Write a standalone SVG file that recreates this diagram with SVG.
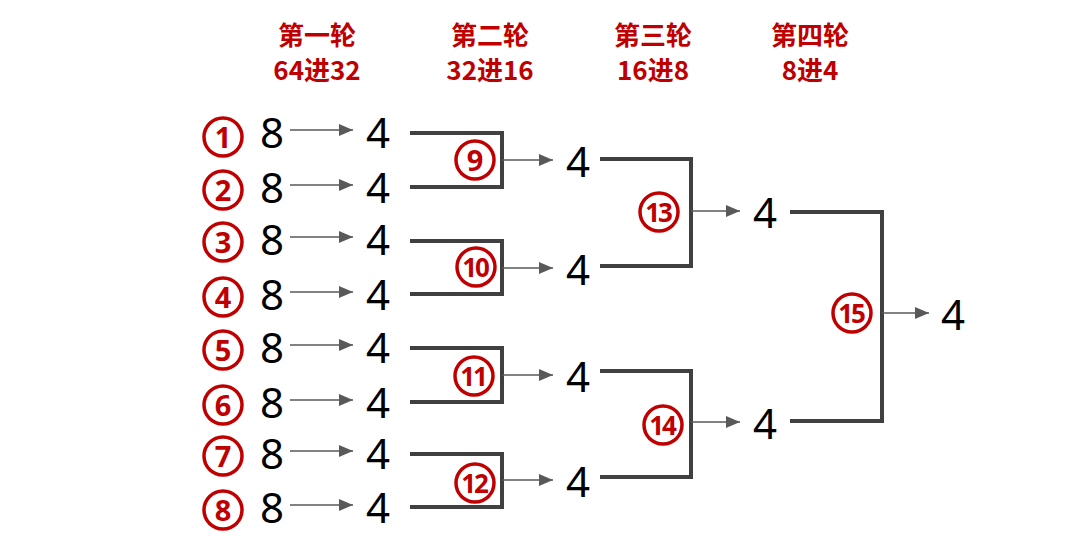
<svg xmlns="http://www.w3.org/2000/svg" width="1080" height="543" viewBox="0 0 1080 543">
<style>
.hd{font-family:"Noto Sans CJK SC","Noto Sans",sans-serif;font-weight:700;font-size:26px;fill:#c00000;text-anchor:middle}
.num{font-family:"Noto Sans","Open Sans",sans-serif;font-size:42px;fill:#000;text-anchor:middle}
.cn{font-family:"Noto Sans","Open Sans",sans-serif;font-weight:700;font-size:29px;fill:#c00000;text-anchor:middle}
.cn2{font-family:"Noto Sans","Open Sans",sans-serif;font-weight:700;font-size:26px;fill:#c00000;text-anchor:middle;letter-spacing:-2px}
.ring{fill:#fff;stroke:#c00000;stroke-width:3.5}
.br{fill:none;stroke:#404040;stroke-width:4}
.ar{stroke:#595959;stroke-width:1.5;fill:none;marker-end:url(#ah)}
</style>
<defs>
<marker id="ah" markerUnits="userSpaceOnUse" markerWidth="14" markerHeight="12" refX="14" refY="6" orient="auto">
<path d="M0,0 L14,6 L0,12 Z" fill="#595959"/>
</marker>
</defs>
<g id="headers">
<text class="hd" x="317" y="45">第一轮</text>
<text class="hd" x="317" y="80">64进32</text>
<text class="hd" x="490" y="45">第二轮</text>
<text class="hd" x="490" y="80">32进16</text>
<text class="hd" x="653" y="45">第三轮</text>
<text class="hd" x="653" y="80">16进8</text>
<text class="hd" x="810" y="45">第四轮</text>
<text class="hd" x="810" y="80">8进4</text>
</g>
<g id="connectors">
<line class="ar" x1="290" y1="130" x2="353" y2="130"/>
<line class="ar" x1="290" y1="185" x2="353" y2="185"/>
<line class="ar" x1="290" y1="237" x2="353" y2="237"/>
<line class="ar" x1="290" y1="292" x2="353" y2="292"/>
<line class="ar" x1="290" y1="345" x2="353" y2="345"/>
<line class="ar" x1="290" y1="400" x2="353" y2="400"/>
<line class="ar" x1="290" y1="451" x2="353" y2="451"/>
<line class="ar" x1="290" y1="505" x2="353" y2="505"/>
<path class="br" d="M410,133 H502 V187 H410"/>
<path class="br" d="M410,241 H502 V294 H410"/>
<path class="br" d="M410,348 H502 V402 H410"/>
<path class="br" d="M410,454 H502 V507 H410"/>
<line class="ar" x1="502" y1="160" x2="553" y2="160"/>
<line class="ar" x1="502" y1="268" x2="553" y2="268"/>
<line class="ar" x1="502" y1="375" x2="553" y2="375"/>
<line class="ar" x1="502" y1="480" x2="553" y2="480"/>
<path class="br" d="M600,159 H691 V266 H600"/>
<path class="br" d="M600,371 H691 V477 H600"/>
<line class="ar" x1="691" y1="211" x2="740" y2="211"/>
<line class="ar" x1="691" y1="422" x2="740" y2="422"/>
<path class="br" d="M790,212 H882 V421 H790"/>
<line class="ar" x1="882" y1="313" x2="929" y2="313"/>
</g>
<g id="n1"><circle class="ring" cx="223" cy="137" r="19"/><text class="cn" x="223" y="147.5">1</text><text class="num" x="272" y="148">8</text><text class="num" x="378" y="148">4</text></g>
<g id="n2"><circle class="ring" cx="223" cy="190" r="19"/><text class="cn" x="223" y="200.5">2</text><text class="num" x="272" y="203">8</text><text class="num" x="378" y="203">4</text></g>
<g id="n3"><circle class="ring" cx="223" cy="242" r="19"/><text class="cn" x="223" y="252.5">3</text><text class="num" x="272" y="255">8</text><text class="num" x="378" y="255">4</text></g>
<g id="n4"><circle class="ring" cx="223" cy="297" r="19"/><text class="cn" x="223" y="307.5">4</text><text class="num" x="272" y="310">8</text><text class="num" x="378" y="310">4</text></g>
<g id="n5"><circle class="ring" cx="223" cy="350" r="19"/><text class="cn" x="223" y="360.5">5</text><text class="num" x="272" y="363">8</text><text class="num" x="378" y="363">4</text></g>
<g id="n6"><circle class="ring" cx="223" cy="405" r="19"/><text class="cn" x="223" y="415.5">6</text><text class="num" x="272" y="418">8</text><text class="num" x="378" y="418">4</text></g>
<g id="n7"><circle class="ring" cx="223" cy="456" r="19"/><text class="cn" x="223" y="466.5">7</text><text class="num" x="272" y="469">8</text><text class="num" x="378" y="469">4</text></g>
<g id="n8"><circle class="ring" cx="223" cy="510" r="19"/><text class="cn" x="223" y="520.5">8</text><text class="num" x="272" y="523">8</text><text class="num" x="378" y="523">4</text></g>
<g id="n9"><circle class="ring" cx="475" cy="160" r="19"/><text class="cn" x="475" y="170.5">9</text><text class="num" x="578" y="177">4</text></g>
<g id="n10"><circle class="ring" cx="476" cy="267" r="19"/><text class="cn2" x="475" y="276.5">10</text><text class="num" x="578" y="285">4</text></g>
<g id="n11"><circle class="ring" cx="474" cy="376" r="19"/><text class="cn2" x="473" y="385.5">11</text><text class="num" x="578" y="392">4</text></g>
<g id="n12"><circle class="ring" cx="475" cy="483" r="19"/><text class="cn2" x="474" y="492.5">12</text><text class="num" x="578" y="497">4</text></g>
<g id="n13"><circle class="ring" cx="659" cy="212" r="19"/><text class="cn2" x="658" y="221.5">13</text><text class="num" x="765" y="228">4</text></g>
<g id="n14"><circle class="ring" cx="663" cy="425" r="19"/><text class="cn2" x="662" y="434.5">14</text><text class="num" x="765" y="439">4</text></g>
<g id="n15"><circle class="ring" cx="852" cy="313" r="19"/><text class="cn2" x="851" y="322.5">15</text><text class="num" x="953" y="330">4</text></g>
</svg>
